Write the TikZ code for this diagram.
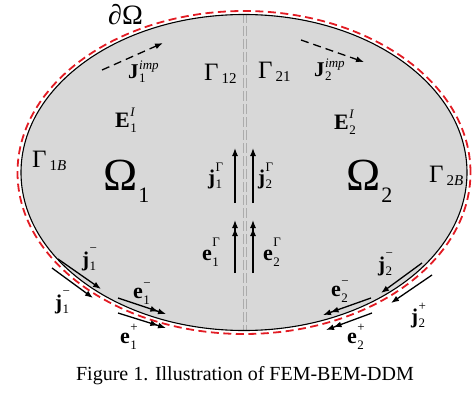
\documentclass[tikz,border=0pt]{standalone}
\usepackage{fontspec}
\setmainfont{Liberation Serif}
\usetikzlibrary{arrows.meta}
\definecolor{fillgray}{RGB}{216,216,216}
\definecolor{bred}{RGB}{226,28,36}
\definecolor{divgray}{RGB}{172,172,172}
\def\ssz{13}\def\supr{12pt}\def\subl{5pt}\def\skn{0.5pt}
\newcommand\myscr[2]{%
  \setbox0\hbox{\fontsize{\ssz}{\ssz}\selectfont #1}%
  \setbox2\hbox{\fontsize{\ssz}{\ssz}\selectfont #2}%
  \kern\skn\raise\supr\copy2\kern-\wd2\lower\subl\copy0
  \ifdim\wd2>\wd0 \kern\dimexpr\wd2-\wd0\relax\fi}
\tikzset{
  lbl/.style={anchor=base west, inner sep=0pt, font=\fontsize{21}{21}\selectfont},
  big/.style={anchor=base west, inner sep=0pt, font=\fontsize{46}{46}\selectfont\def\ssz{22}\def\subl{12pt}\def\skn{1pt}},
  gam/.style={anchor=base west, inner sep=0pt, font=\fontsize{25}{25}\selectfont\def\ssz{15}\def\subl{3pt}\def\skn{3pt}},
  vec/.style={line width=1.3pt, -{Latex[length=8pt,width=6pt]}},
  dvec/.style={line width=1.3pt, -{Latex[length=8pt,width=6pt]Latex[length=8pt,width=6pt]}},
  impvec/.style={line width=1.3pt, dash pattern=on 8pt off 5pt, -{Latex[length=8pt,width=6pt]}},
}
\begin{document}
\begin{tikzpicture}[x=1pt,y=-1pt]
\useasboundingbox (0,0) rectangle (474,412);
% domain
\fill[fillgray] (244,172.5) ellipse [x radius=223pt, y radius=158pt];
\begin{scope}
  \clip (244,172.5) ellipse [x radius=223pt, y radius=158pt];
  \draw[divgray, line width=0.9pt, dash pattern=on 10pt off 3pt] (243,0) -- (243,340);
  \draw[divgray, line width=0.9pt, dash pattern=on 10pt off 3pt] (246.5,0) -- (246.5,340);
\end{scope}
\draw[black, line width=1.1pt] (244,172.5) ellipse [x radius=223pt, y radius=158pt];
\draw[bred, line width=1.8pt, dash pattern=on 8pt off 4.5pt] (244,172.5) ellipse [x radius=226.5pt, y radius=161.5pt];

% labels
\node[font=\fontsize{28}{28}\selectfont, anchor=base west, inner sep=0pt] (dO) at (108,25) {∂Ω};
\node[lbl, font=\fontsize{21}{21}\selectfont\def\supr{9pt}\def\subl{4pt}] (J1) at (128,78) {\textbf{J}\myscr{1}{\textit{imp}}};
\node[lbl, font=\fontsize{21}{21}\selectfont\def\supr{9pt}\def\subl{4pt}] (J2) at (314,77) {\textbf{J}\myscr{2}{\textit{imp}}};
\node[gam] (G12) at (204,81) {Γ\myscr{12}{}};
\node[gam] (G21) at (258,78) {Γ\myscr{21}{}};
\node[lbl, font=\fontsize{22}{22}\selectfont\def\supr{11pt}\def\subl{5pt}] (E1) at (115,128) {\textbf{E}\myscr{1}{\textit{I}}};
\node[lbl, font=\fontsize{22}{22}\selectfont\def\supr{11pt}\def\subl{5pt}] (E2) at (334,129) {\textbf{E}\myscr{2}{\textit{I}}};
\node[gam] (G1B) at (32,167) {Γ\myscr{1\textit{B}}{}};
\node[gam] (G2B) at (429,182) {Γ\myscr{2\textit{B}}{}};
\node[big] (O1) at (103,190) {Ω\myscr{1}{}};
\node[big] (O2) at (346,190) {Ω\myscr{2}{}};
\node[lbl, font=\fontsize{21}{21}\selectfont\def\supr{13pt}\def\subl{4pt}] (jG1) at (208,184) {\textbf{j}\myscr{1}{Γ}};
\node[lbl, font=\fontsize{21}{21}\selectfont\def\supr{13pt}\def\subl{4pt}] (jG2) at (258,184) {\textbf{j}\myscr{2}{Γ}};
\node[lbl, font=\fontsize{22}{22}\selectfont\def\supr{14pt}\def\subl{6pt}] (eG1) at (202,260) {\textbf{e}\myscr{1}{Γ}};
\node[lbl, font=\fontsize{22}{22}\selectfont\def\supr{14pt}\def\subl{6pt}] (eG2) at (263,260) {\textbf{e}\myscr{2}{Γ}};
\node[lbl, font=\fontsize{21}{21}\selectfont\def\supr{14pt}\def\subl{4pt}] (jm1) at (82,266) {\textbf{j}\myscr{1}{−}};
\node[lbl, font=\fontsize{21}{21}\selectfont\def\supr{14pt}\def\subl{4pt}] (jp1) at (55,309) {\textbf{j}\myscr{1}{−}};
\node[lbl, font=\fontsize{22}{22}\selectfont\def\supr{11pt}\def\subl{6pt}] (em1) at (133,298) {\textbf{e}\myscr{1}{−}};
\node[lbl, font=\fontsize{22}{22}\selectfont\def\supr{12pt}\def\subl{6pt}] (ep1) at (120,343) {\textbf{e}\myscr{1}{+}};
\node[lbl, font=\fontsize{21}{21}\selectfont\def\supr{14pt}\def\subl{4pt}] (jm2) at (378,271) {\textbf{j}\myscr{2}{−}};
\node[lbl, font=\fontsize{21}{21}\selectfont\def\supr{13pt}\def\subl{4pt}] (jp2) at (411,323) {\textbf{j}\myscr{2}{+}};
\node[lbl, font=\fontsize{22}{22}\selectfont\def\supr{11pt}\def\subl{6pt}] (em2) at (331,296) {\textbf{e}\myscr{2}{−}};
\node[lbl, font=\fontsize{22}{22}\selectfont\def\supr{12pt}\def\subl{6pt}] (ep2) at (347,343) {\textbf{e}\myscr{2}{+}};
\node[font=\fontsize{20}{20}\selectfont, anchor=base, inner sep=0pt] (cap) at (245,380) {Figure 1. Illustration of FEM-BEM-DDM};

% arrow end points
\coordinate (i1a) at (102,70); \coordinate (i1b) at (163,43);
\coordinate (i2a) at (301,40); \coordinate (i2b) at (364,62);
\coordinate (jg1a) at (235,203); \coordinate (jg1b) at (235,148);
\coordinate (jg2a) at (253,203); \coordinate (jg2b) at (253,148);
\coordinate (eg1a) at (235,273); \coordinate (eg1b) at (235,220);
\coordinate (eg2a) at (253,273); \coordinate (eg2b) at (253,220);
\coordinate (jm1a) at (58,259); \coordinate (jm1b) at (101,289);
\coordinate (jp1a) at (52,268); \coordinate (jp1b) at (93,298);
\coordinate (em1a) at (118,298); \coordinate (em1b) at (166,314);
\coordinate (ep1a) at (118,313); \coordinate (ep1b) at (166,328);
\coordinate (jm2a) at (422,263); \coordinate (jm2b) at (381,293);
\coordinate (jp2a) at (432,275); \coordinate (jp2b) at (391,303);
\coordinate (em2a) at (371,298); \coordinate (em2b) at (323,315);
\coordinate (ep2a) at (372,313); \coordinate (ep2b) at (326,330);

\draw[impvec] (i1a) -- (i1b);
\draw[impvec] (i2a) -- (i2b);
\draw[vec] (jg1a) -- (jg1b);
\draw[vec] (jg2a) -- (jg2b);
\draw[dvec] (eg1a) -- (eg1b);
\draw[dvec] (eg2a) -- (eg2b);
\draw[vec] (jm1a) -- (jm1b);
\draw[vec] (jp1a) -- (jp1b);
\draw[dvec] (em1a) -- (em1b);
\draw[dvec] (ep1a) -- (ep1b);
\draw[vec] (jm2a) -- (jm2b);
\draw[vec] (jp2a) -- (jp2b);
\draw[dvec] (em2a) -- (em2b);
\draw[dvec] (ep2a) -- (ep2b);
\end{tikzpicture}
\end{document}
